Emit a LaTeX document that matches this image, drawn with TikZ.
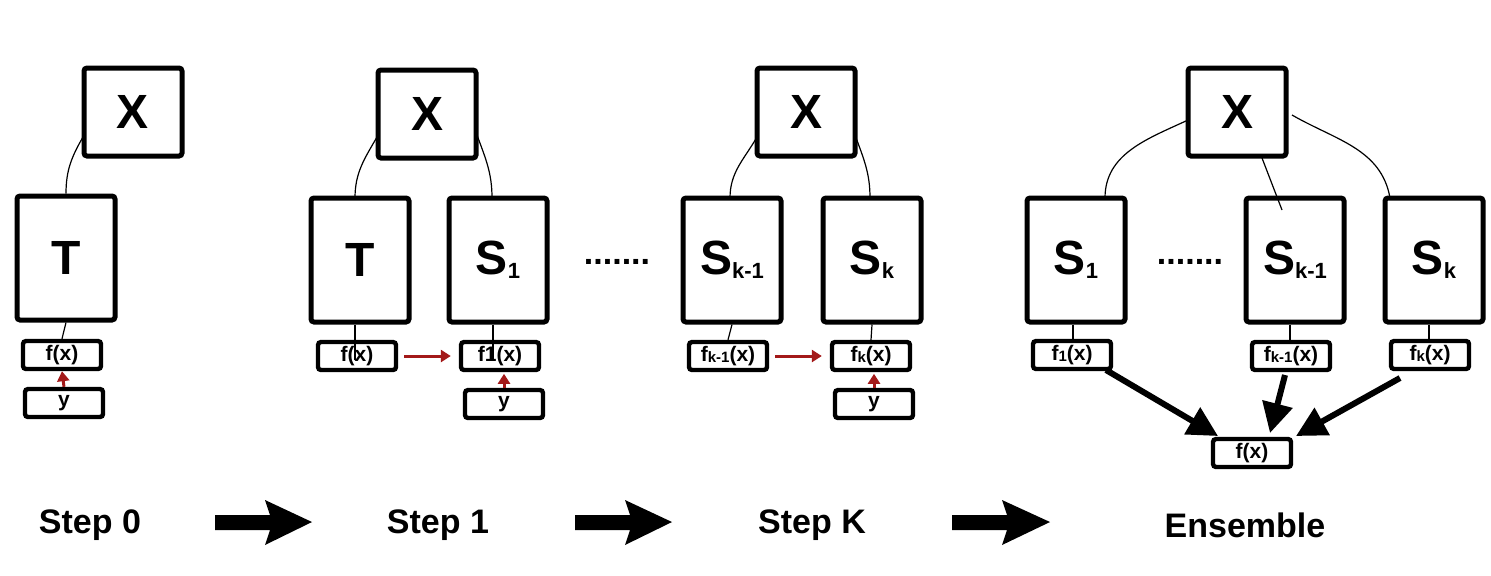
\documentclass[tikz,border=0pt]{standalone}
\usepackage{fontspec}
\setmainfont{Liberation Sans}
\usetikzlibrary{arrows.meta}
\tikzset{x=0.5pt,y=-0.5pt,
 bx/.style={draw,line width=2.5pt,rounded corners=1.5pt,inner sep=0pt,font=\bfseries\fontsize{24}{24}\selectfont},
 big/.style={bx,minimum width=49pt,minimum height=62pt},
 xb/.style={bx,minimum width=49pt,minimum height=44pt},
 sm/.style={bx,line width=2.2pt,minimum width=39pt,minimum height=14pt,font=\bfseries\fontsize{10.5}{10.5}\selectfont},
 con/.style={line width=0.6pt},
 red/.style={draw=red!60!black!90,line width=1.5pt,-{Triangle[length=5pt,width=6pt]}},
 ens/.style={line width=3pt,-{Triangle[length=15pt,width=15pt]}},
 lbl/.style={font=\bfseries\fontsize{17}{17}\selectfont},
 dots/.style={font=\bfseries\fontsize{17}{17}\selectfont}}
\newcommand{\sub}[1]{\raisebox{-0.15ex}{\fontsize{11}{11}\selectfont #1}}
\newcommand{\ssub}[1]{\raisebox{-0.1ex}{\fontsize{7.5}{7.5}\selectfont #1}}
\newcommand{\fatarrow}[2]{\fill (#1,515) -- (#1+55,515) -- (#1+50,500) -- (#2,522) -- (#1+50,545) -- (#1+55,530) -- (#1,530) -- cycle;}
\begin{document}
\begin{tikzpicture}
\useasboundingbox (0,0) rectangle (1491,575);
% Step 0
\node[xb] (x0) at (133,112) {X};
\node[big] (t0) at (66,258) {T};
\node[sm] (f0) at (62,355) {f(x)};
\node[sm] (y0) at (64,403) {y};
\draw[con] (x0.west) ++(0,25) coordinate (a0);
\draw[con] (83,137) to[out=-120,in=90] (t0.north);
\draw[con] (t0.south) -- (f0.north);
\draw[red] (y0.north) -- (f0.south);
% Step 1
\node[xb] (x1) at (427,114) {X};
\node[big] (t1) at (360,260) {T};
\node[big] (s1) at (498,260) {S\sub{1}};
\node[sm] (f1a) at (357,356) {f(x)};
\node[sm] (f1b) at (500,356) {f1(x)};
\node[sm] (y1) at (504,404) {y};
\draw[con] (377,137) to[out=-120,in=90] (355,198);
\draw[con] (477,135) to[out=-70,in=90] (492,198);
\draw[con] (t1.south) ++(-5,0) -- ++(0,35);
\draw[con] (s1.south) ++(-5,0) -- ++(0,35);
\draw[red] (f1a.east) ++(6,0) -- ([xshift=-4pt]f1b.west);
\draw[red] (y1.north) -- ++(0,-14);
\node[dots] (d1) at (617,262) {.......};
% Step K
\node[xb] (xk) at (806,112) {X};
\node[big] (sk1) at (732,260) {S\sub{k-1}};
\node[big] (sk) at (872,260) {S\sub{k}};
\node[sm] (fk1) at (728,356) {f\ssub{k-1}(x)};
\node[sm] (fk) at (871,356) {f\ssub{k}(x)};
\node[sm] (yk) at (874,404) {y};
\draw[con] (757,137) to[out=-120,in=90] (730,198);
\draw[con] (855,135) to[out=-70,in=90] (870,198);
\draw[con] (sk1.south) -- (fk1.north);
\draw[con] (sk.south) -- (fk.north);
\draw[red] (fk1.east) ++(6,0) -- ([xshift=-4pt]fk.west);
\draw[red] (yk.north) -- ++(0,-14);
% Ensemble
\node[xb] (xe) at (1237,112) {X};
\node[big] (se1) at (1076,260) {S\sub{1}};
\node[dots] (d2) at (1190,262) {.......};
\node[big] (sek1) at (1295,260) {S\sub{k-1}};
\node[big] (sek) at (1434,260) {S\sub{k}};
\node[sm] (fe1) at (1072,355) {f\ssub{1}(x)};
\node[sm] (fek1) at (1291,356) {f\ssub{k-1}(x)};
\node[sm] (fek) at (1430,355) {f\ssub{k}(x)};
\node[sm] (fe) at (1252,453) {f(x)};
\draw[con] (1188,120) to[out=-155,in=90] (1105,198);
\draw[con] (1262,158) -- (1282,210);
\draw[con] (1292,115) to[out=-30,in=100] (1390,198);
\draw[con] (se1.south) ++(-3,0) -- ++(0,18);
\draw[con] (sek1.south) ++(-5,0) -- ++(0,18);
\draw[con] (sek.south) ++(-5,0) -- ++(0,18);
\draw[ens] (1106,370) -- (1218,436);
\draw[ens] (1285,375) -- (1270,433);
\draw[ens] (1400,378) -- (1296,436);
% bottom
\node[lbl] (l0) at (90,525) {Step 0};
\node[lbl] (l1) at (438,525) {Step 1};
\node[lbl] (lk) at (812,525) {Step K};
\node[lbl] (le) at (1245,525) {Ensemble};
\fatarrow{215}{312}
\fatarrow{575}{672}
\fatarrow{952}{1050}
\end{tikzpicture}
\end{document}
